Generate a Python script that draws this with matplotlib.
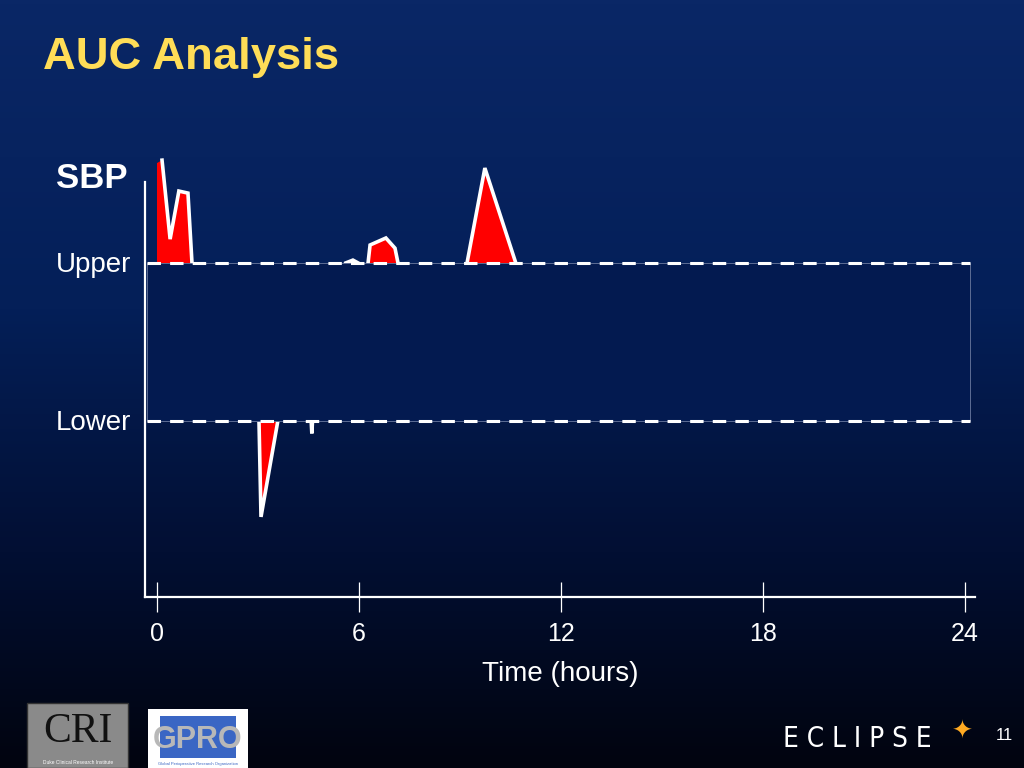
import numpy as np
import matplotlib.pyplot as plt
from matplotlib.colors import LinearSegmentedColormap
from matplotlib.patches import Rectangle

plt.rcParams['font.family'] = ['Liberation Sans', 'DejaVu Sans']

# SBP trace (hours, mmHg); values inside the band are hidden behind it
hours = [0.0, 0.15, 0.39, 0.65, 0.92, 1.04, 2.0, 3.03, 3.09, 3.59, 4.0, 4.4,
         4.58, 4.60, 4.62, 5.2, 5.6, 5.82, 5.98, 6.1, 6.27, 6.33, 6.80, 7.07,
         7.16, 8.0, 9.21, 9.74, 10.66, 12.0, 16.0, 20.0, 24.0]
sbp = [189.3, 190.6, 155.6, 176.9, 176.0, 145.0, 110.0, 75.0, 32.5, 75.0, 85.0, 80.0,
       75.0, 69.5, 75.0, 110.0, 145.0, 146.3, 145.0, 140.0, 145.0, 153.0, 156.1, 151.6,
       145.0, 130.0, 145.0, 187.1, 145.0, 120.0, 110.0, 125.0, 115.0]
upper = 145
lower = 75
xticks = [0, 6, 12, 18, 24]

fig = plt.figure(figsize=(10.24, 7.68), dpi=100)

# slide background gradient
bg = fig.add_axes([0, 0, 1, 1], zorder=-10)
cmap = LinearSegmentedColormap.from_list(
    'slide', [(0, '#0a2766'), (0.4, '#041f58'), (0.72, '#020f33'), (1, '#01040f')])
bg.imshow(np.linspace(0, 1, 256).reshape(-1, 1), aspect='auto', cmap=cmap,
          extent=[0, 1, 0, 1])
bg.axis('off')

fig.text(43 / 1024, 1 - 57 / 768, 'AUC Analysis', color='#ffdd57', fontsize=32.7,
         fontweight='bold', va='center', ha='left')

ax = fig.add_axes([145 / 1024, 1 - 597 / 768, 830 / 1024, 447 / 768])
ax.patch.set_alpha(0)

t = np.array(hours)
y = np.array(sbp)
ax.fill_between(t, y, upper, where=y >= upper, interpolate=True, color='#ff0000',
                lw=0, zorder=2)
ax.fill_between(t, y, lower, where=y <= lower, interpolate=True, color='#ff0000',
                lw=0, zorder=2)
ax.plot(t[1:], y[1:], color='white', lw=2.6, zorder=3, solid_joinstyle='miter')

# acceptable range band covers the in-range part of the trace
ax.add_patch(Rectangle((-0.3, lower), 24.45, upper - lower, facecolor='#031a50',
                       edgecolor='#5d6d95', lw=0.7, zorder=4))
for lvl in (upper, lower):
    ax.plot([-0.3, 24.15], [lvl, lvl], color='white', lw=2.2, ls=(0, (4.4, 3.0)),
            zorder=5)

ax.set_xlim(-0.356, 24.3)
ax.set_ylim(-3, 195.1)
ax.set_xticks(xticks)
ax.set_yticks([])
for s in ('top', 'right'):
    ax.spines[s].set_visible(False)
for s in ('left', 'bottom'):
    ax.spines[s].set_color('white')
    ax.spines[s].set_linewidth(1.6)
ax.spines['left'].set_bounds(-3, 180.9)
ax.tick_params(axis='x', colors='white', direction='inout', length=21, width=0.9,
               labelsize=18, pad=7.5)
ax.set_xlabel('Time (hours)', color='white', fontsize=20, labelpad=11)

yt = ax.get_yaxis_transform()
ax.text(-0.017, upper - 0.8, 'Upper', transform=yt, ha='right', va='center',
        color='white', fontsize=20)
ax.text(-0.017, lower - 1.0, 'Lower', transform=yt, ha='right', va='center',
        color='white', fontsize=20)
ax.text(-0.021, 182.5, 'SBP', transform=yt, ha='right', va='center',
        color='white', fontsize=25, fontweight='bold')

# footer logos (simplified)
fig.patches.append(Rectangle((27 / 1024, 0), 101 / 1024, 65 / 768, facecolor='#8a8a8a',
                             edgecolor='#333333', transform=fig.transFigure))
fig.text(78 / 1024, 36 / 768, 'CRI', fontsize=30, family='Liberation Serif',
         color='#111111', ha='center', va='center')
fig.text(78 / 1024, 6 / 768, 'Duke Clinical Research Institute', fontsize=3.5,
         color='white', ha='center', va='center')
fig.patches.append(Rectangle((148 / 1024, 0), 100 / 1024, 59 / 768, facecolor='white',
                             transform=fig.transFigure))
fig.patches.append(Rectangle((160 / 1024, 10 / 768), 76 / 1024, 42 / 768,
                             facecolor='#3a66c4', transform=fig.transFigure))
fig.text(198 / 1024, 28 / 768, 'GPRO', fontsize=22, fontweight='bold',
         color='#b8b8b8', ha='center', va='center')
fig.text(198 / 1024, 4 / 768, 'Global Perioperative Research Organization',
         fontsize=3, color='#3a66c4', ha='center', va='center')
fig.text(857 / 1024, 29 / 768, 'E C L I P S E', fontsize=20, color='white',
         ha='center', va='center', fontweight='light', family='DejaVu Sans',
         stretch='condensed')
fig.text(962 / 1024, 36 / 768, '\u2726', fontsize=18, color='#ffaa22',
         ha='center', va='center', family='DejaVu Sans')
fig.text(1004 / 1024, 32 / 768, '11', fontsize=12, color='white',
         ha='center', va='center')

fig.savefig('out.png', dpi=100)
